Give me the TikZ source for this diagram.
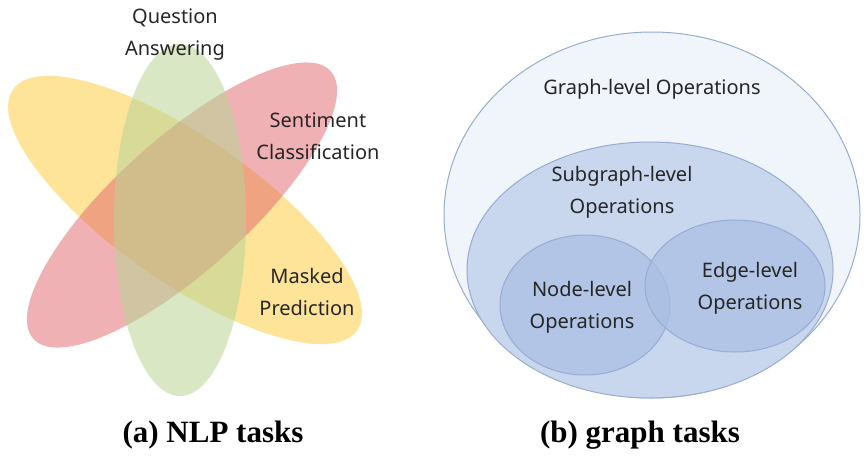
\documentclass[tikz,border=0pt]{standalone}
\usepackage{fontspec}
\setmainfont{Noto Sans}
\newfontfamily\capfont{Liberation Serif}
\begin{document}
\begin{tikzpicture}[x=1pt,y=-1pt,
  lbl/.style={font=\fontsize{20}{32}\selectfont,align=center,text=black!85},
  captext/.style={font=\capfont\bfseries\fontsize{31}{36}\selectfont},
  outer/.style={draw={rgb,255:red,150;green,172;blue,210},line width=1pt}]
\useasboundingbox (0,0) rectangle (866,469);
\definecolor{ye}{RGB}{253,205,70}
\definecolor{rd}{RGB}{225,100,105}
\definecolor{gr}{RGB}{185,212,150}
\definecolor{bl1}{RGB}{240,244,251}
\definecolor{bl2}{RGB}{200,214,238}
\definecolor{bl3}{RGB}{170,190,228}
% left
\fill[ye,opacity=0.55] (185,210) [rotate around={-35:(185,210)}] ellipse [x radius=210,y radius=72];
\fill[rd,opacity=0.5] (182,205) [rotate around={42:(182,205)}] ellipse [x radius=200,y radius=66];
\fill[gr,opacity=0.55] (180,220) ellipse [x radius=66,y radius=176];
\node[lbl] (qa) at (175,35) {Question\\Answering};
\node[lbl] (sc) at (318,136) {Sentiment\\Classification};
\node[lbl] (mp) at (307,292) {Masked\\Prediction};
% right
\filldraw[outer,fill=bl1] (652,215) ellipse [x radius=208,y radius=183];
\filldraw[outer,fill=bl2] (650,270) ellipse [x radius=183,y radius=128];
\filldraw[outer,fill=bl3,fill opacity=0.7] (585,305) ellipse [x radius=85,y radius=70];
\filldraw[outer,fill=bl3,fill opacity=0.7] (735,286) ellipse [x radius=90,y radius=66];
\node[lbl] (gl) at (652,89) {Graph-level Operations};
\node[lbl] (sl) at (622,192) {Subgraph-level\\Operations};
\node[lbl] (nl) at (582,307) {Node-level\\Operations};
\node[lbl] (el) at (750,288) {Edge-level\\Operations};
\node[captext] (ca) at (213,435) {(a) NLP tasks};
\node[captext] (cb) at (640,435) {(b) graph tasks};
\end{tikzpicture}
\end{document}
